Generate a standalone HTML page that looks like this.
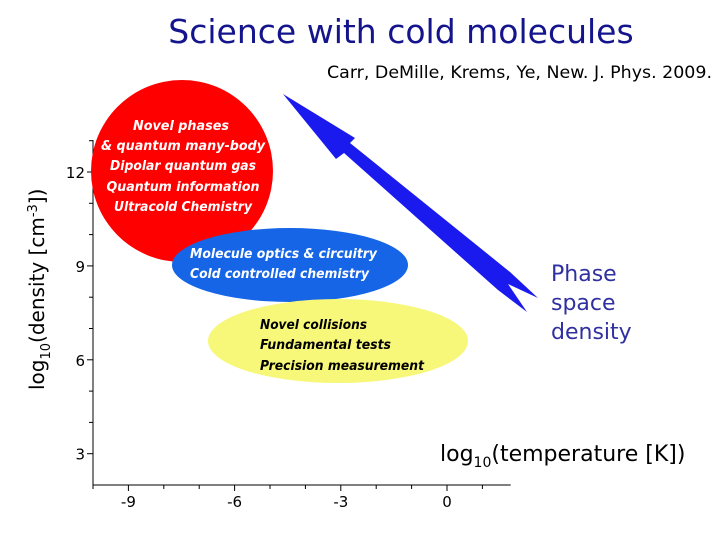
<!DOCTYPE html>
<html><head><meta charset="utf-8"><style>
body{margin:0;background:#fff;}
svg{display:block;}
text{font-family:"DejaVu Sans","Liberation Sans",sans-serif;}
</style></head><body>
<svg width="720" height="540" viewBox="0 0 720 540">
<text x="401" y="43" text-anchor="middle" font-size="33" fill="#14148c">Science with cold molecules</text>
<text x="712" y="78" text-anchor="end" font-size="17" fill="#000" textLength="385" lengthAdjust="spacingAndGlyphs">Carr, DeMille, Krems, Ye,  New. J. Phys. 2009.</text>

<g id="axes"></g>

<circle cx="182" cy="171" r="91" fill="#ff0000"/>
<g font-style="italic" font-weight="bold" font-size="13" fill="#fff" text-anchor="middle">
<text x="181" y="130" textLength="96" lengthAdjust="spacingAndGlyphs">Novel phases</text>
<text x="183" y="150" textLength="164" lengthAdjust="spacingAndGlyphs">&amp; quantum many-body</text>
<text x="183" y="170" textLength="146" lengthAdjust="spacingAndGlyphs">Dipolar quantum gas</text>
<text x="183" y="191" textLength="153" lengthAdjust="spacingAndGlyphs">Quantum information</text>
<text x="183" y="211" textLength="138" lengthAdjust="spacingAndGlyphs">Ultracold Chemistry</text>
</g>
<ellipse cx="290" cy="265" rx="118" ry="37" fill="#1565e6"/>
<g font-style="italic" font-weight="bold" font-size="13" fill="#fff">
<text x="190" y="258" textLength="187" lengthAdjust="spacingAndGlyphs">Molecule optics &amp; circuitry</text>
<text x="190" y="278" textLength="179" lengthAdjust="spacingAndGlyphs">Cold controlled chemistry</text>
</g>
<ellipse cx="338" cy="341" rx="130" ry="42" fill="#f7f77a"/>
<g font-style="italic" font-weight="bold" font-size="13" fill="#000">
<text x="260" y="329" textLength="107" lengthAdjust="spacingAndGlyphs">Novel collisions</text>
<text x="260" y="349" textLength="131" lengthAdjust="spacingAndGlyphs">Fundamental tests</text>
<text x="260" y="370" textLength="164" lengthAdjust="spacingAndGlyphs">Precision measurement</text>
</g>

<polygon points="283,94 355,138 350,143 510,272 538,298 508,284 527,312 498,290 344,153 336,159" fill="#1a1aee"/>
<g font-size="22" fill="#3030a0">
<text x="551" y="281">Phase</text>
<text x="551" y="310">space</text>
<text x="551" y="339">density</text>
</g>
<text x="440" y="461" font-size="22" fill="#000">log<tspan font-size="14" dy="6">10</tspan><tspan dy="-6">(temperature [K])</tspan></text>
<text transform="translate(44,390) rotate(-90)" font-size="20" fill="#000">log<tspan font-size="13" dy="6">10</tspan><tspan dy="-6">(density [cm</tspan><tspan font-size="13" dy="-7">-3</tspan><tspan dy="7">])</tspan></text>
</svg>
<script>
const xTicks=[-9,-6,-3,0];
const yTicks=[3,6,9,12];
const xMin=-10,xMax=1.8,yMin=2,yMax=13;
const X=v=>93+(v-xMin)*35.4;
const Y=v=>485-(v-yMin)*31.3;
const NS="http://www.w3.org/2000/svg";
const g=document.getElementById('axes');
function el(t,a){const e=document.createElementNS(NS,t);for(const k in a)e.setAttribute(k,a[k]);g.appendChild(e);return e;}
let ax=el('line',{x1:93,y1:140,x2:93,y2:485,stroke:'#000','stroke-width':1});


let ax2=el('line',{x1:93,y1:485,x2:X(xMax),y2:485,stroke:'#000','stroke-width':1});


for(let v=-10;v<=1;v++){const t=el('line',{x1:X(v),y1:485,x2:X(v),y2:xTicks.includes(v)?491:489,stroke:'#000'});

}
for(let v=3;v<=13;v++){const t=el('line',{x1:yTicks.includes(v)?87:89,y1:Y(v),x2:93,y2:Y(v),stroke:'#000'});

}
xTicks.forEach(v=>{const t=el('text',{x:X(v),y:507,'text-anchor':'middle','font-size':15});t.textContent=String(v);

});
yTicks.forEach(v=>{const t=el('text',{x:85,y:Y(v)+6,'text-anchor':'end','font-size':15});t.textContent=String(v);

});
</script>
</body></html>
